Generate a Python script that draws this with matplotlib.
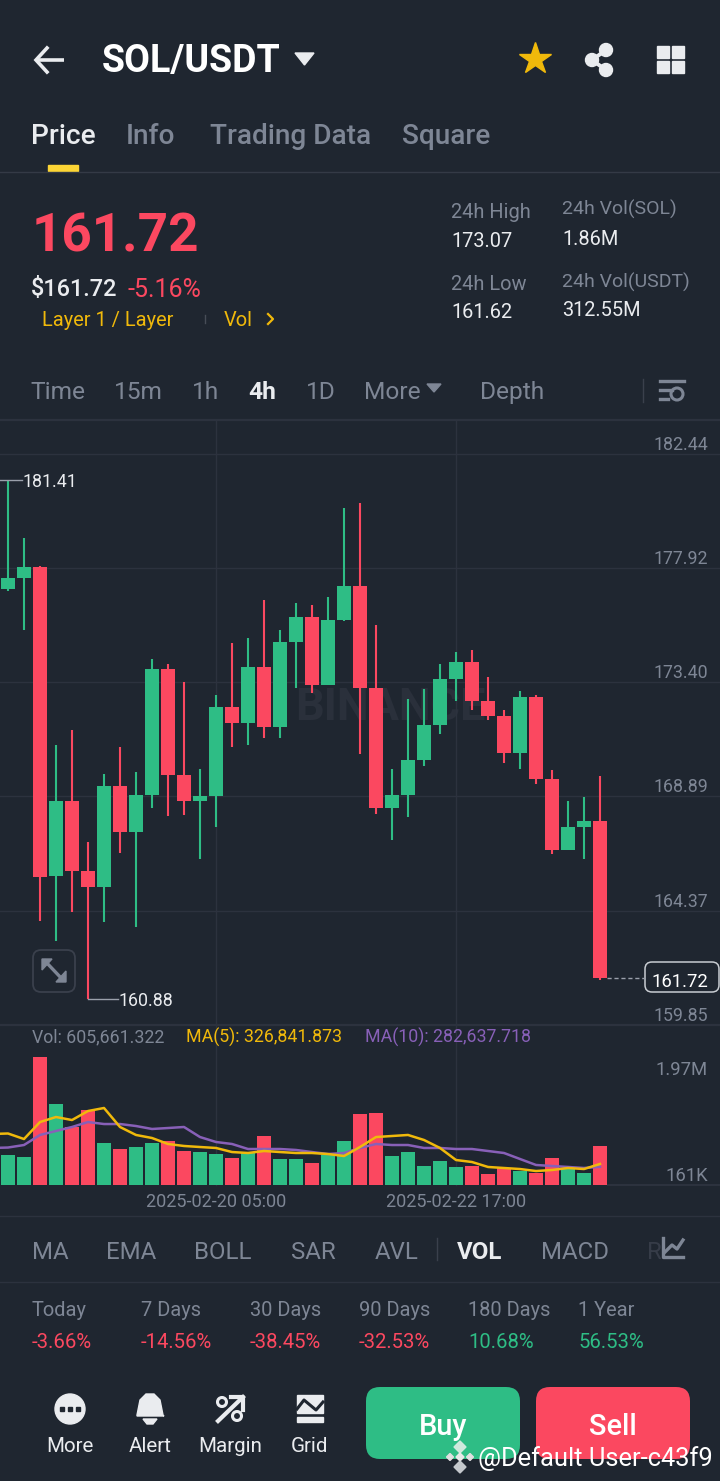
import matplotlib
matplotlib.use('Agg')
import numpy as np
import matplotlib.pyplot as plt
from matplotlib.patches import FancyBboxPatch, Polygon, Circle, Rectangle

plt.rcParams['font.family'] = ['Roboto', 'DejaVu Sans']

BG = '#1f2630'
GREEN = '#2ebd85'
RED = '#fb4860'
GRAY = '#7e8695'
LIGHT = '#eaecef'
YELLOW = '#f0b90b'
PURPLE = '#8860b8'
GRID = '#2c323e'

# candle data, 4h SOL/USDT
opens = [177.10, 177.53, 177.97, 165.75, 168.71, 165.94, 165.31, 169.31, 167.49, 168.95,
         173.93, 169.74, 168.71, 168.91, 172.43, 171.80, 174.01, 171.64, 175.00, 175.99,
         173.30, 175.87, 177.22, 173.18, 168.44, 168.95, 170.33, 171.72, 173.54, 174.21,
         172.67, 172.08, 170.61, 172.83, 169.58, 166.77, 167.68, 167.92]
highs = [181.41, 179.12, 178.00, 170.93, 171.52, 167.09, 169.78, 170.85, 169.86, 174.33,
         174.13, 173.42, 169.98, 172.91, 174.96, 175.16, 176.66, 175.48, 176.55, 176.47,
         176.78, 180.30, 180.50, 175.68, 169.98, 172.75, 173.14, 174.13, 174.61, 174.69,
         173.62, 172.31, 173.06, 172.91, 169.94, 168.71, 168.87, 169.70]
lows = [177.02, 175.48, 163.97, 163.17, 164.32, 160.88, 163.93, 166.66, 163.73, 168.44,
        168.12, 168.16, 166.42, 167.68, 170.85, 170.93, 171.20, 171.20, 173.18, 172.99,
        173.30, 175.83, 170.57, 168.20, 167.17, 168.08, 170.10, 171.36, 172.67, 172.31,
        171.92, 170.22, 169.98, 169.39, 166.62, 166.77, 166.42, 161.63]
closes = [177.53, 177.97, 165.71, 168.71, 165.94, 165.31, 169.31, 167.49, 168.95, 173.93,
          169.74, 168.71, 168.91, 172.43, 171.80, 174.01, 171.64, 175.00, 175.99, 173.30,
          175.87, 177.22, 173.18, 168.44, 168.95, 170.33, 171.72, 173.54, 174.21, 172.67,
          172.08, 170.61, 172.83, 169.58, 166.77, 167.68, 167.92, 161.72]
# volume in thousands
volumes = [466, 435, 1988, 1258, 901, 1165, 652, 559, 590, 652, 683, 528, 512, 481, 419, 497,
           761, 404, 404, 342, 466, 683, 1103, 1118, 450, 512, 295, 373, 280, 295, 171, 264,
           217, 186, 419, 264, 186, 606]
# moving averages start one candle before the first full one on screen
ma5 = [792, 800, 714, 978, 1056, 1009, 1149, 1196, 901, 777, 730, 637, 606, 590, 575, 512, 497,
       528, 512, 497, 497, 481, 450, 590, 745, 761, 777, 699, 575, 388, 357, 280, 264, 248,
       217, 233, 264, 248, 327]
ma10 = [575, 582, 621, 777, 839, 901, 978, 947, 947, 916, 870, 885, 901, 745, 668, 637, 559,
        559, 559, 544, 512, 481, 497, 575, 637, 621, 621, 575, 575, 559, 559, 528, 497, 404,
        311, 295, 280, 264, 283]
price_ticks = [182.44, 177.92, 173.40, 168.89, 164.37, 159.85]
date_idx = [13, 28]
date_labels = ['2025-02-20 05:00', '2025-02-22 17:00']

W, H = 720, 1481
fig = plt.figure(figsize=(W / 100, H / 100), dpi=100, facecolor=BG)


def px_axes(x0, y0, x1, y1, zorder):
    a = fig.add_axes([x0 / W, 1 - y1 / H, (x1 - x0) / W, (y1 - y0) / H], zorder=zorder)
    a.patch.set_alpha(0)
    return a


ui = px_axes(0, 0, W, H, 0)
ui.set_xlim(0, W)
ui.set_ylim(H, 0)
ui.axis('off')


def txt(x, y, s, px, color=LIGHT, ha='left', weight='normal', z=5):
    # text came out about 2px high with va=center
    ui.text(x, y + 1.8, s, fontsize=px * 0.72, color=color, ha=ha, va='center', fontweight=weight, zorder=z)


# header
ui.plot([36, 64], [60, 60], color=LIGHT, lw=2.6, solid_capstyle='butt')
ui.plot([47, 36, 47], [48, 60, 72], color=LIGHT, lw=2.6, solid_joinstyle='miter')
txt(102, 60, 'SOL/USDT', 37.5, '#ffffff', weight='bold')
ui.add_patch(Polygon([[295, 53], [314, 53], [304.5, 65]], color=LIGHT))
ui.plot([535], [59], marker='*', ms=24, color=YELLOW, mec=YELLOW)
for cx, cy in [(606, 50), (592, 60), (606, 70)]:
    ui.add_patch(Circle((cx, cy), 6.5, color=LIGHT))
ui.plot([606, 592, 606], [50, 60, 70], color=LIGHT, lw=2.8)
for sx, sy in [(657, 46), (672, 46), (657, 61), (672, 61)]:
    ui.add_patch(Rectangle((sx, sy), 11.5, 11.5, color=LIGHT))

# tabs
txt(31, 135, 'Price', 28, LIGHT, weight='medium')
txt(126, 135, 'Info', 28, GRAY, weight='medium')
txt(210, 135, 'Trading Data', 28, GRAY, weight='medium')
txt(402, 135, 'Square', 28, GRAY, weight='medium')
ui.add_patch(Rectangle((48, 165), 30, 6, color='#fcd535'))
ui.plot([0, W], [171.5, 171.5], color='#343a46', lw=1)

# price block
txt(32, 235, '161.72', 53, RED, weight='bold')
txt(31, 288, '$161.72', 23.5, LIGHT, weight='medium')
txt(127, 288, '-5.16%', 25, RED)
txt(42, 319, 'Layer 1 / Layer', 20, YELLOW)
ui.plot([204.5, 204.5], [315, 323], color='#474d57', lw=1)
txt(224, 319, 'Vol', 20, YELLOW)
ui.plot([268, 273, 268], [314, 319, 324], color=YELLOW, lw=1.6)

txt(451, 211, '24h High', 20, GRAY)
txt(451, 240, '173.07', 20, LIGHT)
txt(562, 208, '24h Vol(SOL)', 19.5, GRAY)
txt(562, 238, '1.86M', 20, LIGHT)
txt(451, 283, '24h Low', 20, GRAY)
txt(451, 311, '161.62', 20, LIGHT)
txt(562, 281, '24h Vol(USDT)', 19.5, GRAY)
txt(562, 309, '312.55M', 20, LIGHT)

# interval row
for x, s, c, w in [(30, 'Time', GRAY, 'normal'), (114, '15m', GRAY, 'normal'), (192, '1h', GRAY, 'normal'),
                   (248, '4h', LIGHT, 'bold'), (306, '1D', GRAY, 'normal'), (364, 'More', GRAY, 'normal'),
                   (480, 'Depth', GRAY, 'normal')]:
    txt(x, 391, s, 24.5, c, weight=w)
ui.add_patch(Polygon([[427, 384], [441, 384], [434, 392]], color=GRAY))
ui.plot([643, 643], [379, 402], color='#3a404c', lw=1)
ui.plot([660, 684], [381, 381], color=GRAY, lw=2.4)
ui.plot([660, 672], [390, 390], color=GRAY, lw=2.4)
ui.plot([660, 668], [399, 399], color=GRAY, lw=2.4)
ui.add_patch(Circle((677, 394), 6, fc=BG, ec=GRAY, lw=2.2))

# watermark, sits under the candles
txt(295, 706, 'BINANCE', 45, '#2a303b', weight='bold', z=1)

# indicator legend
txt(32, 1036, 'Vol: 605,661.322', 17.8, GRAY)
txt(186, 1036, 'MA(5): 326,841.873', 17.7, YELLOW)
txt(365, 1036, 'MA(10): 282,637.718', 17.7, PURPLE)
for i, s in zip(date_idx, date_labels):
    txt(8 + 16 * i, 1200, s, 18, GRAY, ha='center')
ui.plot([0, W], [1216, 1216], color=GRID, lw=1)
ui.plot([0, W], [1282, 1282], color=GRID, lw=1)
for y in [1025, 420]:
    ui.plot([0, W], [y, y], color=GRID, lw=1.6)
ui.plot([216, 216], [1025, 1185], color=GRID, lw=1)
ui.plot([456, 456], [1025, 1185], color=GRID, lw=1)

# indicator tabs
for x, s, c, w in [(32, 'MA', GRAY, 'normal'), (106, 'EMA', GRAY, 'normal'), (194, 'BOLL', GRAY, 'normal'),
                   (291, 'SAR', GRAY, 'normal'), (375, 'AVL', GRAY, 'normal'), (457, 'VOL', LIGHT, 'bold'),
                   (541, 'MACD', GRAY, 'normal')]:
    txt(x, 1251, s, 24, c, weight=w)
txt(647, 1251, 'R', 24, '#363c48')
ui.plot([436.5, 436.5], [1238, 1260], color='#3a404c', lw=1)
ui.plot([663, 663, 683], [1238, 1257, 1257], color=GRAY, lw=2.4)
ui.plot([665, 672, 677, 683], [1252, 1245, 1249, 1240], color=GRAY, lw=2.4)

# period changes
period_names = ['Today', '7 Days', '30 Days', '90 Days', '180 Days', '1 Year']
period_vals = ['-3.66%', '-14.56%', '-38.45%', '-32.53%', '10.68%', '56.53%']
period_x = [32, 141, 250, 359, 468, 578]
for x, n, v in zip(period_x, period_names, period_vals):
    txt(x, 1309, n, 20, GRAY)
    txt(x, 1341, v, 20.3, RED if v.startswith('-') else GREEN)

# bottom bar
for cx, s in [(70, 'More'), (150, 'Alert'), (230, 'Margin'), (310, 'Grid')]:
    txt(cx, 1445, s, 20.5, LIGHT, ha='center')
ui.add_patch(Circle((70, 1409), 15, color=LIGHT))
for dx in [-8, 0, 8]:
    ui.add_patch(Rectangle((70 + dx - 2, 1407), 4, 4, color=BG))
ui.add_patch(Polygon([[137, 1415], [140, 1400], [146, 1394], [154, 1394], [160, 1400], [163, 1415], [164, 1416],
                      [137, 1416]], color=LIGHT))
ui.add_patch(Polygon([[143, 1419], [157, 1419], [153, 1424], [147, 1424]], color=LIGHT))
ui.plot([218, 243], [1421, 1397], color=LIGHT, lw=3)
ui.plot([231, 243, 243], [1397, 1397, 1410], color=LIGHT, lw=3)
ui.add_patch(Circle((222, 1402), 4.5, fc=BG, ec=LIGHT, lw=2.2))
ui.add_patch(Circle((237, 1416), 4.5, fc=BG, ec=LIGHT, lw=2.2))
ui.add_patch(Rectangle((297, 1395), 26, 18, color=LIGHT))
ui.plot([297, 304, 316, 323], [1409, 1400, 1410, 1402], color=BG, lw=2.2, zorder=4)
ui.add_patch(Rectangle((297, 1417), 26, 5, color=LIGHT))
for bx, col, s in [(366, GREEN, 'Buy'), (536, RED, 'Sell')]:
    ui.add_patch(FancyBboxPatch((bx + 14, 1387 + 14), 154 - 28, 72 - 28, boxstyle='round,pad=14', fc=col, ec='none', zorder=3))
    txt(bx + 77, 1425, s, 29, '#ffffff', ha='center', weight='medium', z=4)
txt(478, 1457, '@Default User-c43f9', 25.5, '#ffffff', z=6)
for cx, cy, r, col in [(460, 1447, 6, '#cfe9dd'), (450, 1457, 3.5, '#e0e0e0'), (460, 1457, 4, '#e8e8e8'),
                       (470, 1457, 3.5, '#e0e0e0'), (460, 1467, 6, '#c4c8cc')]:
    ui.add_patch(Polygon([[cx, cy - r], [cx + r, cy], [cx, cy + r], [cx - r, cy]], color=col, zorder=6))

# expand button
ui.add_patch(FancyBboxPatch((41, 958), 26, 26, boxstyle='round,pad=8', fc='none', ec='#3a404c', lw=1.3, zorder=6))
ui.plot([45, 63], [961, 980], color=GRAY, lw=2.4, zorder=6)
ui.add_patch(Polygon([[42, 959], [52, 959], [42, 970]], color=GRAY, zorder=6))
ui.add_patch(Polygon([[66, 982], [56, 982], [66, 971]], color=GRAY, zorder=6))

# candle pane, one index is 16 px wide
ax = px_axes(0, 420, W, 1025, 2)
ax.set_xlim(-0.5, 44.5)
ax.set_ylim(159.85, 183.785)
ax.set_yticks(price_ticks)
ax.set_xticks(date_idx)
ax.tick_params(length=0, labelleft=False, labelbottom=False)
ax.grid(True, color=GRID, lw=1)
ax.set_axisbelow(True)
for s in ax.spines.values():
    s.set_visible(False)
idx = np.arange(len(opens))
o, h, l, c = map(np.array, (opens, highs, lows, closes))
cols = [GREEN if cc >= oo else RED for oo, cc in zip(o, c)]
ax.vlines(idx, l, h, colors=cols, lw=1.5, zorder=3)
ax.bar(idx, np.abs(c - o), bottom=np.minimum(o, c), width=0.875, color=cols, zorder=4)
for p in price_ticks:
    ax.annotate(f'{p:.2f}', xy=(1, p), xycoords=ax.get_yaxis_transform(), xytext=(-12, 9), textcoords='offset pixels',
                ha='right', va='center', fontsize=12.8, color=GRAY, annotation_clip=False)

# high / low / last markers
hi = int(np.argmax(h))
lo = int(np.argmin(l))
ax.plot([-0.5, hi + 0.85], [h[hi], h[hi]], color='#9aa0ab', lw=1, zorder=5)
ax.annotate(f'{h[hi]:.2f}', xy=(hi + 0.9, h[hi]), xytext=(0, -2), textcoords='offset pixels', color=LIGHT, fontsize=12.8, va='center', zorder=5)
ax.plot([lo, lo + 1.85], [l[lo], l[lo]], color='#9aa0ab', lw=1, zorder=5)
ax.annotate(f'{l[lo]:.2f}', xy=(lo + 1.9, l[lo]), xytext=(0, -2), textcoords='offset pixels', color=LIGHT, fontsize=12.8, va='center', zorder=5)
ax.plot([37.45, 39.8], [c[-1], c[-1]], color='#9aa0ab', lw=1, ls=(0, (3, 2)), zorder=5)
ui.add_patch(FancyBboxPatch((652, 969), 60, 16, boxstyle='round,pad=7', fc=BG, ec='#c8ccd2', lw=1.1, zorder=6))
txt(708, 980, '161.72', 18.5, '#ffffff', ha='right', z=7)

# volume pane
vx = px_axes(0, 1025, W, 1185, 2)
vx.set_xlim(-0.5, 44.5)
vx.set_ylim(0, 2485)
vx.axis('off')
vx.bar(idx, volumes, width=0.875, color=cols, zorder=3)
ma_x = np.arange(-1, len(opens))
vx.plot(ma_x, ma10, color=PURPLE, lw=1.8, zorder=4)
vx.plot(ma_x, ma5, color=YELLOW, lw=1.8, zorder=5)
ui.plot([608, W], [1185, 1185], color=GRID, lw=1.5)
txt(708, 1068, '1.97M', 18.5, GRAY, ha='right')
txt(708, 1174, '161K', 18.5, GRAY, ha='right')

fig.savefig('out.png', dpi=100, facecolor=BG)
